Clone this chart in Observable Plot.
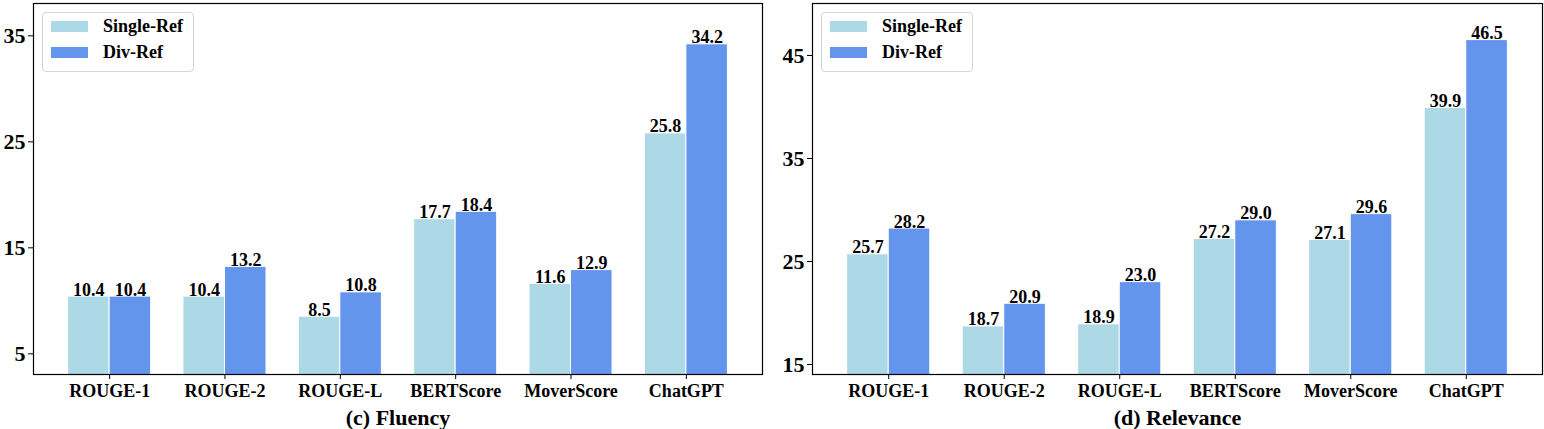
<!DOCTYPE html>
<html>
<head>
<meta charset="utf-8">
<script src="https://cdn.jsdelivr.net/npm/d3@7"></script>
<script src="https://cdn.jsdelivr.net/npm/@observablehq/plot@0.6"></script>
<style>
  html, body { margin: 0; padding: 0; background: #fff; }
  #root { position: relative; width: 1544px; height: 429px; overflow: hidden; }
  .panel { position: absolute; top: 0; width: 772px; height: 429px; }
  .panel svg { font-weight: bold; }
  .legend { position: absolute; border: 1px solid #d5d5d5; border-radius: 4px; background: rgba(255,255,255,0.85);
            font-family: 'Liberation Serif', 'Times New Roman', serif; font-weight: bold; font-size: 18px; }
  .legend .sw { position: absolute; width: 37px; height: 11px; }
  .legend .lb { position: absolute; line-height: 18px; white-space: nowrap; }
</style>
</head>
<body>
<div id="root"></div>
<script>
const categories = ["ROUGE-1", "ROUGE-2", "ROUGE-L", "BERTScore", "MoverScore", "ChatGPT"];
const seriesNames = ["Single-Ref", "Div-Ref"];
const fluencySingle = [10.4, 10.4, 8.5, 17.7, 11.6, 25.8];
const fluencyDiv = [10.4, 13.2, 10.8, 18.4, 12.9, 34.2];
const relevanceSingle = [25.7, 18.7, 18.9, 27.2, 27.1, 39.9];
const relevanceDiv = [28.2, 20.9, 23.0, 29.0, 29.6, 46.5];
const fluencyTicks = [5, 15, 25, 35];
const relevanceTicks = [15, 25, 35, 45];
const colors = ["#ADD8E6", "#6495ED"];

const BAR_W = 0.36;
const FONT = "'Liberation Serif', 'Times New Roman', serif";

function rows(single, div) {
  const out = [];
  categories.forEach((c, i) => {
    out.push({cat: c, i, series: seriesNames[0], value: single[i], x1: i - BAR_W, x2: i, xc: i - BAR_W / 2});
    out.push({cat: c, i, series: seriesNames[1], value: div[i], x1: i, x2: i + BAR_W, xc: i + BAR_W / 2});
  });
  return out;
}

function panel(single, div, ticks, yDomain, caption, left, mLeft, mRight) {
  const data = rows(single, div);
  const chart = Plot.plot({
    width: 772,
    height: 429,
    marginTop: 3,
    marginBottom: 55,
    marginLeft: mLeft,
    marginRight: mRight,
    style: {fontFamily: FONT, fontWeight: "bold", color: "black", background: "white"},
    x: {type: "linear", domain: [-0.66, categories.length - 1 + 0.66]},
    y: {domain: yDomain},
    color: {domain: seriesNames, range: colors},
    marks: [
      Plot.rect(data, {x1: "x1", x2: "x2", y1: 0, y2: "value", fill: "series", stroke: "white", strokeWidth: 1, clip: true}),
      Plot.text(data, {x: "xc", y: "value", text: d => d.value.toFixed(1), lineAnchor: "bottom", dy: -1,
                       fontSize: 18, fontWeight: "bold", fill: "black"}),
      Plot.axisY(ticks, {fontSize: 22, tickSize: 5, tickPadding: 3, label: null, stroke: "black", fill: "black"}),
      Plot.axisX(d3.range(categories.length), {tickFormat: i => categories[i], fontSize: 18, tickSize: 5,
                 tickPadding: 5, label: null, stroke: "black", fill: "black"}),
      Plot.frame({stroke: "black", strokeWidth: 1.2}),
      Plot.text([caption], {frameAnchor: "bottom", lineAnchor: "bottom", dy: 50, fontSize: 22,
                            fontWeight: "bold", fill: "black"})
    ]
  });
  const wrap = document.createElement("div");
  wrap.className = "panel";
  wrap.style.left = left + "px";
  wrap.appendChild(chart);

  const lg = document.createElement("div");
  lg.className = "legend";
  lg.style.left = (mLeft + 9) + "px";
  lg.style.top = "12px";
  lg.style.width = "150px";
  lg.style.height = "58px";
  seriesNames.forEach((s, k) => {
    const sw = document.createElement("div");
    sw.className = "sw";
    sw.style.background = colors[k];
    sw.style.left = "8px";
    sw.style.top = (8 + k * 26) + "px";
    lg.appendChild(sw);
    const lb = document.createElement("div");
    lb.className = "lb";
    lb.textContent = s;
    lb.style.left = "60px";
    lb.style.top = (4 + k * 26) + "px";
    lg.appendChild(lb);
  });
  wrap.appendChild(lg);
  document.getElementById("root").appendChild(wrap);
}

panel(fluencySingle, fluencyDiv, fluencyTicks, [3.05, 38.05], "(c) Fluency", 0, 33, 10);
panel(relevanceSingle, relevanceDiv, relevanceTicks, [14.03, 50.05], "(d) Relevance", 772, 40, 2);
</script>
</body>
</html>
